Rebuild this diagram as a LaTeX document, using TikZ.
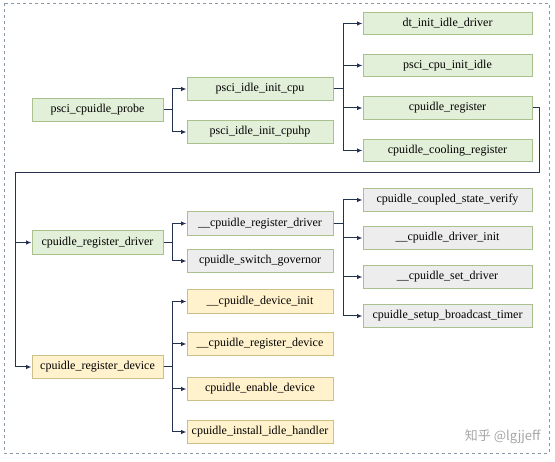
\documentclass[tikz,border=0pt]{standalone}
\usepackage{fontspec}
\setmainfont{Liberation Serif}
\newfontfamily\cjk{Noto Sans CJK SC}
\usetikzlibrary{arrows.meta}
\definecolor{gfill}{HTML}{E2EFD9}
\definecolor{gline}{HTML}{A9C18F}
\definecolor{yfill}{HTML}{FFF2CC}
\definecolor{yline}{HTML}{C9C08A}
\definecolor{hfill}{HTML}{EDEDED}
\definecolor{conn}{HTML}{25324F}
\definecolor{frame}{HTML}{8C97A8}
\begin{document}
\begin{tikzpicture}[x=1pt,y=-1pt,
  box/.style={draw=gline,line width=1pt,fill=gfill,minimum height=23.5pt,inner sep=0pt,font=\fontsize{12}{14}\selectfont,anchor=center},
  lbox/.style={box,minimum width=131pt},
  mbox/.style={box,minimum width=146pt},
  rbox/.style={box,minimum width=169pt,minimum height=22.5pt},
  ybox/.style={fill=yfill,draw=yline},
  hbox/.style={fill=hfill},
  arr/.style={draw=conn,line width=1pt,-{Latex[length=5.5pt,width=4.5pt]}},
  ln/.style={draw=conn,line width=1pt}]
\useasboundingbox (0,0) rectangle (555,462);
\draw[frame,dashed,line width=0.8pt] (4,3) rectangle (549,453);

% top group
\node[lbox] (probe) at (97.5,110) {psci\_cpuidle\_probe};
\node[mbox] (initcpu) at (260,89) {psci\_idle\_init\_cpu};
\node[mbox] (cpuhp) at (260,132) {psci\_idle\_init\_cpuhp};
\node[rbox] (dtinit) at (447.5,23.5) {dt\_init\_idle\_driver};
\node[rbox] (cpuinit) at (447.5,65.5) {psci\_cpu\_init\_idle};
\node[rbox] (creg) at (447.5,108) {cpuidle\_register};
\node[rbox] (cool) at (447.5,150.5) {cpuidle\_cooling\_register};

% middle group
\node[lbox] (regdrv) at (97.5,242.5) {cpuidle\_register\_driver};
\node[mbox,hbox] (uregdrv) at (260,223.5) {\_\_cpuidle\_register\_driver};
\node[mbox,hbox] (swgov) at (260,261) {cpuidle\_switch\_governor};
\node[rbox,hbox] (coupled) at (447.5,200) {cpuidle\_coupled\_state\_verify};
\node[rbox,hbox] (drvinit) at (447.5,238) {\_\_cpuidle\_driver\_init};
\node[rbox,hbox] (setdrv) at (447.5,277) {\_\_cpuidle\_set\_driver};
\node[rbox,hbox] (bcast) at (447.5,316) {cpuidle\_setup\_broadcast\_timer};

% bottom group
\node[lbox,ybox] (regdev) at (97.5,367) {cpuidle\_register\_device};
\node[mbox,ybox] (devinit) at (260,301.5) {\_\_cpuidle\_device\_init};
\node[mbox,ybox] (uregdev) at (260,344) {\_\_cpuidle\_register\_device};
\node[mbox,ybox] (enable) at (260,389) {cpuidle\_enable\_device};
\node[mbox,ybox] (install) at (260,432) {cpuidle\_install\_idle\_handler};

\coordinate (j1) at (172,0);
\coordinate (j2) at (343,0);
\coordinate (rt) at (539,173);
\coordinate (lt) at (15,173);

\foreach \c in {initcpu,cpuhp} \draw[arr] (probe.east) -- (probe.east -| j1) |- (\c.west);
\foreach \c in {dtinit,cpuinit,creg,cool} \draw[arr] (initcpu.east) -- (initcpu.east -| j2) |- (\c.west);
\foreach \c in {uregdrv,swgov} \draw[arr] (regdrv.east) -- (regdrv.east -| j1) |- (\c.west);
\foreach \c in {coupled,drvinit,setdrv,bcast} \draw[arr] (uregdrv.east) -- (uregdrv.east -| j2) |- (\c.west);
\foreach \c in {devinit,uregdev,enable,install} \draw[arr] (regdev.east) -- (regdev.east -| j1) |- (\c.west);

\draw[ln] (creg.east) -| (rt) -- (lt) -- (lt |- regdev.west);
\draw[arr] (lt |- regdrv.west) -- (regdrv.west);
\draw[arr] (lt |- regdev.west) -- (regdev.west);

\node[font=\cjk\fontsize{13}{15}\selectfont,text=black!35,anchor=east] (wm) at (544,437) {知乎 @lgjjeff};
\end{tikzpicture}
\end{document}
